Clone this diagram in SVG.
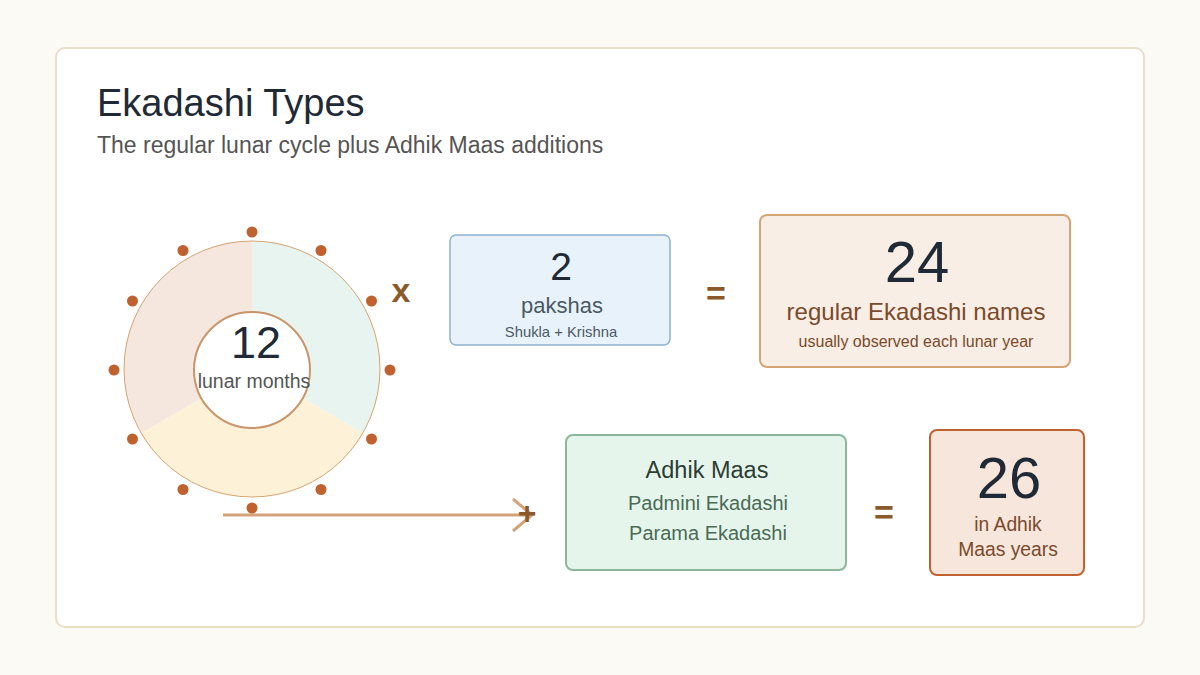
<svg xmlns="http://www.w3.org/2000/svg" width="1200" height="675" viewBox="0 0 1200 675">
<defs>
<style>
text{font-family:"Liberation Sans",Arial,sans-serif}
.big{fill:#1f2a36;text-anchor:middle}
.op{fill:#8b5a2b;font-weight:bold;text-anchor:middle}
.dot{fill:#c0622f}
.mid{text-anchor:middle}
</style>
<marker id="arr" markerWidth="24" markerHeight="34" refX="21" refY="17" orient="auto" markerUnits="userSpaceOnUse">
<path d="M2,1 L21,17 L2,33" fill="none" stroke="#d4a27a" stroke-width="3"/>
</marker>
</defs>
<rect width="1200" height="675" fill="#fcfaf5"/>
<rect x="56" y="48" width="1088" height="579" rx="9" fill="#ffffff" stroke="#e8dfc8" stroke-width="2"/>
<text x="97" y="116" font-size="38" fill="#1f2a36">Ekadashi Types</text>
<text x="97" y="153" font-size="23" fill="#555">The regular lunar cycle plus Adhik Maas additions</text>

<g id="connectors">
<line x1="223" y1="515" x2="532" y2="515" stroke="#d4a27a" stroke-width="3" marker-end="url(#arr)"/>
</g>

<g id="months">
<path d="M252,369 L252,241 A128,128 0 0 1 362.85,433 Z" fill="#e8f4ef"/>
<path d="M252,369 L362.85,433 A128,128 0 0 1 141.15,433 Z" fill="#fdf1d8"/>
<path d="M252,369 L141.15,433 A128,128 0 0 1 252,241 Z" fill="#f5e6de"/>
<circle cx="252" cy="369" r="128" fill="none" stroke="#d4a574" stroke-width="1"/>
<circle cx="252" cy="370" r="58" fill="#ffffff" stroke="#c9956a" stroke-width="2"/>
<g class="dot">
<circle cx="252" cy="232" r="5.5"/>
<circle cx="321" cy="250.5" r="5.5"/>
<circle cx="371.5" cy="301" r="5.5"/>
<circle cx="390" cy="370" r="5.5"/>
<circle cx="371.5" cy="439" r="5.5"/>
<circle cx="321" cy="489.5" r="5.5"/>
<circle cx="252" cy="508" r="5.5"/>
<circle cx="183" cy="489.5" r="5.5"/>
<circle cx="132.5" cy="439" r="5.5"/>
<circle cx="114" cy="370" r="5.5"/>
<circle cx="132.5" cy="301" r="5.5"/>
<circle cx="183" cy="250.5" r="5.5"/>
</g>
<text x="256" y="358" font-size="45" class="big">12</text>
<text x="254" y="388" font-size="19.5" fill="#555" class="mid">lunar months</text>
</g>

<text x="401" y="302" font-size="34" class="op">x</text>

<g id="pakshas">
<rect x="450" y="235" width="220" height="110" rx="6" fill="#e8f2fa" stroke="#8fb3d0" stroke-width="1.5"/>
<text x="561" y="280" font-size="39" class="big">2</text>
<text x="562" y="313" font-size="22" fill="#4a5a65" class="mid">pakshas</text>
<text x="561" y="337" font-size="14.8" fill="#4a5a65" class="mid">Shukla + Krishna</text>
</g>

<text x="716" y="305" font-size="34" class="op">=</text>

<g id="regular">
<rect x="760" y="215" width="310" height="152" rx="7" fill="#f9eee5" stroke="#d4a574" stroke-width="2"/>
<text x="917" y="282" font-size="58" class="big">24</text>
<text x="916" y="320" font-size="24" fill="#7a4a2a" class="mid">regular Ekadashi names</text>
<text x="916" y="347" font-size="16" fill="#7a4a2a" class="mid">usually observed each lunar year</text>
</g>

<text x="527" y="524" font-size="32" class="op" fill="#7a4a22">+</text>

<g id="adhik">
<rect x="566" y="435" width="280" height="135" rx="7" fill="#e6f5ec" stroke="#8bb89a" stroke-width="2"/>
<text x="707" y="478" font-size="23.5" fill="#2d3d33" class="mid">Adhik Maas</text>
<text x="708" y="510" font-size="20" fill="#4a6b55" class="mid">Padmini Ekadashi</text>
<text x="708" y="540" font-size="20" fill="#4a6b55" class="mid">Parama Ekadashi</text>
</g>

<text x="884" y="524" font-size="34" class="op">=</text>

<g id="adhik-total">
<rect x="930" y="430" width="154" height="145" rx="7" fill="#f7e6dc" stroke="#c0622f" stroke-width="2"/>
<text x="1009" y="498" font-size="58" class="big">26</text>
<text x="1008" y="531" font-size="19.3" fill="#7a4a2a" class="mid">in Adhik</text>
<text x="1008" y="556" font-size="19.3" fill="#7a4a2a" class="mid">Maas years</text>
</g>
</svg>
